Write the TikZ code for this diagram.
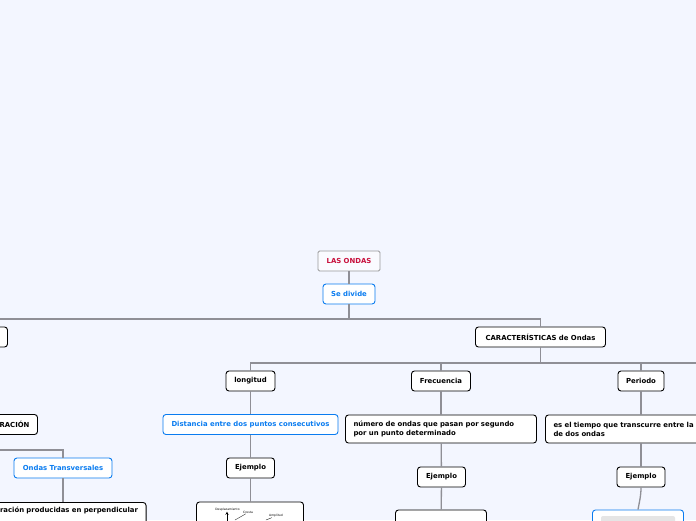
\documentclass[tikz,border=0pt]{standalone}
\usepackage{fontspec}
\setmainfont{DejaVu Sans}
\usepackage{xcolor}
\usepackage{tikz}
\definecolor{pagebg}{HTML}{F3F6FF}
\definecolor{linegray}{HTML}{8F8F96}
\definecolor{topicblue}{HTML}{0A7CF0}
\definecolor{rootred}{HTML}{C8103C}

\begin{document}
\begin{tikzpicture}[x=1pt,y=-1pt,node distance={44pt}, font=\bfseries\fontsize{6.9}{9}\selectfont,
  main/.style = {draw=black, fill=white, rounded corners=3pt, line width=0.9pt, inner sep=0pt, minimum height=20pt, text=black, align=center},
  topic/.style = {main, draw=topicblue, text=topicblue},
  root/.style = {main, draw=gray!80, rounded corners=1.5pt, fill=white!60!pagebg, text=rootred},
  wide/.style = {main, minimum height=28pt, align=left, text width=175pt, minimum width=191pt},
  tiny/.style = {inner sep=0pt, text=black, font=\fontsize{3}{3}\selectfont},
  conn/.style = {draw=linegray, line width=1.3pt}]
\fill[pagebg] (0,0) rectangle (696,520);
\useasboundingbox (0,0) rectangle (696,520);
% top of the map
\node[root] (ondas) at (349,261) [minimum width=62pt] {LAS ONDAS};
\node[topic] (divide) [below of=ondas,node distance=33pt,minimum width=52pt] {Se divide};
\node[main] (clase) at (-60,337) [minimum width=135pt] {};
\node[main] (carac) at (540.5,337) [minimum width=130pt] {CARACTERÍSTICAS de Ondas};
% left branch
\node[main] (racion) at (-11.5,424.5) [minimum width=98pt,text width=82pt,align=right] {RACIÓN};
\node[topic] (trans) at (63,468) [minimum width=98pt] {Ondas Transversales};
\node[main] (vibra) at (146.5,502) [anchor=north east,minimum width=201pt,text width=185pt,align=right,inner ysep=5pt,text depth=28pt] {ración producidas en perpendicular};
% longitud
\node[main] (longitud) at (250.5,381) [minimum width=49pt] {longitud};
\node[topic] (dist) [below of=longitud,node distance=43.5pt,minimum width=175pt] {Distancia entre dos puntos consecutivos};
\node[main] (ejuno) [below of=dist,node distance=43.5pt,minimum width=48pt] {Ejemplo};
\node[main] (imguno) at (250,532) [minimum width=107pt,minimum height=60pt] {};
\node[tiny] (despla) at (227.5,510) {Desplazamiento};
\node[tiny] (cresta) at (248,512.5) {Cresta};
\node[tiny] (amplitud) at (276,516) {Amplitud};
\coordinate (ejey) at (227,522);
\coordinate (crestafin) at (235,520);
\coordinate (amplifin) at (266,520);
\draw[->,>=stealth,line width=0.4pt] (ejey) -- (ejey |- despla.south);
\draw[line width=0.3pt] (crestafin) -- (cresta);
\draw[line width=0.3pt] (amplifin) -- (amplitud);
% Frecuencia
\node[main] (frec) at (441,381) [minimum width=59pt] {Frecuencia};
\node[wide] (numero) at (441,429) {número de ondas que pasan por segundo\\por un punto determinado};
\node[main] (ejdos) at (441.5,477) [minimum width=48pt] {Ejemplo};
\node[main] (imgdos) at (441,540) [minimum width=91pt,minimum height=60pt] {};
% Periodo
\node[main] (periodo) at (641,381) [minimum width=46pt] {Periodo};
\node[wide] (tiempo) at (641,429) {es el tiempo que transcurre entre la\\de dos ondas};
\node[main] (ejtres) at (641,477) [minimum width=48pt] {Ejemplo};
\node[topic] (imgtres) at (638,540) [minimum width=91pt,minimum height=60pt] {};
\fill[black!10, rounded corners=2pt] (601,516) rectangle (675,530);
\coordinate (extra) at (760,371);
% connectors
\draw[conn] (ondas) -- (divide);
\draw[conn] (divide.south) -- ++(0,14.5) -| (clase.north);
\draw[conn] (divide.south) -- ++(0,14.5) -| (carac.north);
\draw[conn] (carac.south) -- ++(0,15.5) -| (longitud.north);
\draw[conn] (carac.south) -- ++(0,15.5) -| (frec.north);
\draw[conn] (carac.south) -- ++(0,15.5) -| (periodo.north);
\draw[conn] (carac.south) -- ++(0,15.5) -| (extra);
\draw[conn] (racion.south) -- ++(0,15) -| (trans.north);
\draw[conn] (trans) -- (trans |- vibra.north);
\draw[conn] (longitud) -- (dist);
\draw[conn] (dist) -- (ejuno);
\draw[conn] (ejuno) -- (ejuno |- imguno.north);
\draw[conn] (frec) -- (numero);
\draw[conn] (numero) -- (ejdos);
\draw[conn] (ejdos) -- (imgdos);
\draw[conn] (periodo) -- (tiempo);
\draw[conn] (tiempo) -- (ejtres);
\draw[conn] (ejtres) to [out=-90,in=80] (imgtres.north);
\end{tikzpicture}
\end{document}
